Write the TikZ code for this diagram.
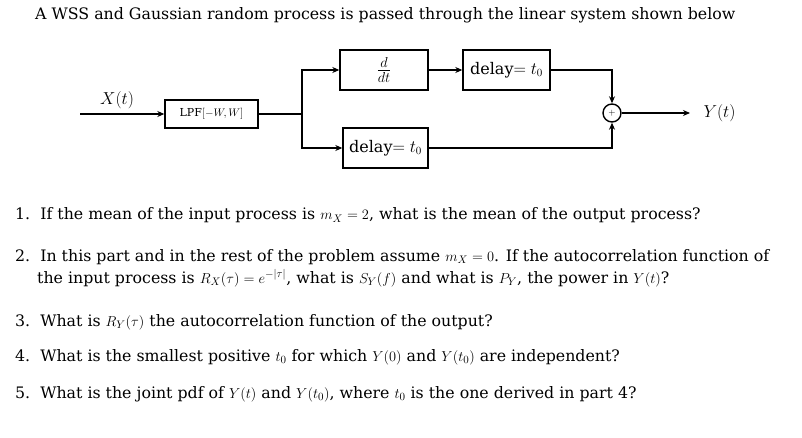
\documentclass[tikz,border=0pt]{standalone}
\usepackage{fontspec}
\setmainfont{DejaVu Serif}
\usetikzlibrary{arrows.meta}
\begin{document}
\begin{tikzpicture}[x=1pt,y=-1pt,
  blk/.style={draw,line width=1.4pt,inner sep=0pt},
  ln/.style={line width=1.4pt},
  ar/.style={ln,-{Stealth[length=7pt,width=6pt]}},
  txt/.style={anchor=base west,inner sep=0pt,font=\fontsize{15.8}{19}\selectfont}]
\useasboundingbox (0,0) rectangle (802,438);
\node[txt] (title) at (35,20) {A WSS and Gaussian random process is passed through the linear system shown below};
\node[blk,minimum width=93pt,minimum height=28pt,font=\fontsize{11}{12}\selectfont] (lpf) at (211.5,114) {LPF$[-W,W]$};
\node[blk,minimum width=88pt,minimum height=40pt,font=\fontsize{21}{24}\selectfont] (dd) at (384,70) {$\frac{d}{dt}$};
\node[blk,minimum width=87pt,minimum height=40pt,font=\fontsize{16}{18}\selectfont] (d1) at (506.5,70) {delay$=t_0$};
\node[blk,minimum width=85pt,minimum height=40pt,font=\fontsize{16}{18}\selectfont] (d2) at (385.5,148) {delay$=t_0$};
\node[draw,circle,line width=1.4pt,minimum size=18pt,inner sep=0pt,font=\small] (s) at (612,113) {$+$};
\coordinate (in) at (80,114);
\coordinate (br) at (302,114);
\coordinate (out) at (690,113);
\node[anchor=west,font=\fontsize{16}{18}\selectfont] (y) at (700,113) {$Y(t)$};
\node[font=\fontsize{16}{18}\selectfont] (x) at (117,100) {$X(t)$};
\draw[ar] (in) -- (lpf);
\draw[ln] (lpf) -- (br);
\draw[ar] (br) |- (dd);
\draw[ar] (br) |- (d2);
\draw[ar] (dd) -- (d1);
\draw[ar] (d1) -| (s);
\draw[ar] (d2) -| (s);
\draw[ar] (s) -- (out);
\node[txt] (q1) at (15,220) {1.\ \ If the mean of the input process is $m_X=2$, what is the mean of the output process?};
\node[txt] (q2) at (15,261) {2.\ \ In this part and in the rest of the problem assume $m_X=0$. If the autocorrelation function of};
\node[txt] (q2b) at (37,283) {the input process is $R_X(\tau)=e^{-|\tau|}$, what is $S_Y(f)$ and what is $P_Y$, the power in $Y(t)$?};
\node[txt] (q3) at (15,326) {3.\ \ What is $R_Y(\tau)$ the autocorrelation function of the output?};
\node[txt] (q4) at (15,361) {4.\ \ What is the smallest positive $t_0$ for which $Y(0)$ and $Y(t_0)$ are independent?};
\node[txt] (q5) at (15,398) {5.\ \ What is the joint pdf of $Y(t)$ and $Y(t_0)$, where $t_0$ is the one derived in part 4?};
\end{tikzpicture}
\end{document}
